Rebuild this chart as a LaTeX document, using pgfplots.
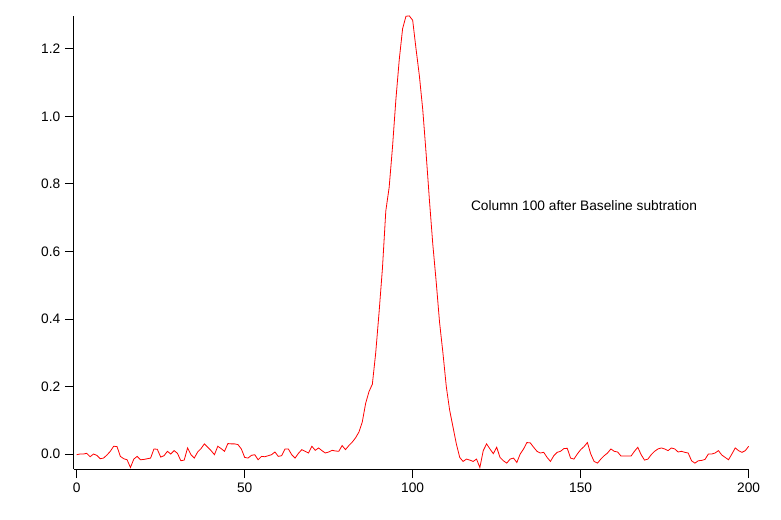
\documentclass[border=0pt]{standalone}
\usepackage{pgfplots}
\pgfplotsset{compat=1.18}
\usepackage{fontspec}
\setmainfont{Liberation Sans}
\pgfplotstableread{
x y
0 -0.002
1 0.000
2 0.000
3 0.002
4 -0.008
5 0.000
6 -0.004
7 -0.014
8 -0.012
9 -0.003
10 0.008
11 0.023
12 0.022
13 -0.007
14 -0.014
15 -0.017
16 -0.040
17 -0.015
18 -0.007
19 -0.017
20 -0.016
21 -0.014
22 -0.012
23 0.015
24 0.014
25 -0.009
26 -0.005
27 0.008
28 0.000
29 0.010
30 0.002
31 -0.020
32 -0.018
33 0.018
34 -0.002
35 -0.012
36 0.006
37 0.016
38 0.030
39 0.020
40 0.010
41 -0.002
42 0.023
43 0.016
44 0.008
45 0.031
46 0.030
47 0.030
48 0.028
49 0.015
50 -0.010
51 -0.012
52 -0.004
53 -0.002
54 -0.017
55 -0.007
56 -0.008
57 -0.005
58 -0.002
59 0.006
60 -0.007
61 -0.005
62 0.015
63 0.015
64 -0.002
65 -0.012
66 0.002
67 0.013
68 0.008
69 0.003
70 0.023
71 0.011
72 0.018
73 0.010
74 0.003
75 0.006
76 0.011
77 0.009
78 0.008
79 0.025
80 0.013
81 0.025
82 0.035
83 0.048
84 0.065
85 0.095
86 0.150
87 0.185
88 0.207
89 0.300
90 0.420
91 0.550
92 0.720
93 0.790
94 0.910
95 1.050
96 1.168
97 1.260
98 1.297
99 1.298
100 1.285
101 1.200
102 1.120
103 1.020
104 0.890
105 0.750
106 0.620
107 0.510
108 0.390
109 0.300
110 0.200
111 0.130
112 0.080
113 0.030
114 -0.010
115 -0.022
116 -0.015
117 -0.018
118 -0.022
119 -0.015
120 -0.040
121 0.010
122 0.030
123 0.015
124 0.001
125 0.020
126 -0.010
127 -0.020
128 -0.027
129 -0.015
130 -0.012
131 -0.025
132 0.000
133 0.015
134 0.034
135 0.033
136 0.020
137 0.008
138 0.003
139 0.005
140 -0.010
141 -0.022
142 -0.005
143 0.005
144 0.008
145 0.016
146 0.017
147 -0.012
148 -0.015
149 0.000
150 0.013
151 0.022
152 0.034
153 0.000
154 -0.022
155 -0.027
156 -0.015
157 -0.005
158 0.003
159 0.015
160 0.008
161 0.006
162 -0.006
163 -0.006
164 -0.006
165 -0.006
166 0.008
167 0.020
168 -0.002
169 -0.018
170 -0.015
171 -0.002
172 0.008
173 0.015
174 0.018
175 0.015
176 0.010
177 0.018
178 0.015
179 0.006
180 0.008
181 0.005
182 0.003
183 -0.020
184 -0.027
185 -0.020
186 -0.019
187 -0.016
188 0.000
189 0.000
190 0.003
191 0.010
192 -0.003
193 -0.010
194 -0.017
195 0.000
196 0.018
197 0.010
198 0.005
199 0.010
200 0.023
}\datatable
\begin{document}
\begin{tikzpicture}
\begin{axis}[
  scale only axis,
  width=506pt, height=340pt,
  xmin=-0.8, xmax=200,
  ymin=-0.0444, ymax=1.2987,
  axis x line*=bottom,
  axis y line*=left,
  axis line style={line width=0.75pt, black},
  every tick/.style={line width=0.75pt, black},
  tick align=outside,
  major tick length=6.75pt,
  xtick={0,50,100,150,200},
  ytick={0,0.2,0.4,0.6,0.8,1.0,1.2},
  yticklabel style={/pgf/number format/.cd, fixed, fixed zerofill, precision=1},
  /pgf/number format/assume math mode=true,
  tick label style={font=\fontsize{10.3}{12}\selectfont},
  minor tick num=0,
  clip=false,
]
\addplot[red, line width=0.6pt, no markers] table[x=x, y=y] {\datatable};
\node[font=\fontsize{10.3}{12}\selectfont, anchor=center] at (axis cs:151,0.736) {Column 100 after Baseline subtration};
\coordinate (bl) at (rel axis cs:0,0);
\end{axis}
\pgfresetboundingbox
\path[use as bounding box] ([shift={(-55.5pt,-37.5pt)}]bl) rectangle ([shift={(530.25pt,351.75pt)}]bl);
\end{tikzpicture}
\end{document}
